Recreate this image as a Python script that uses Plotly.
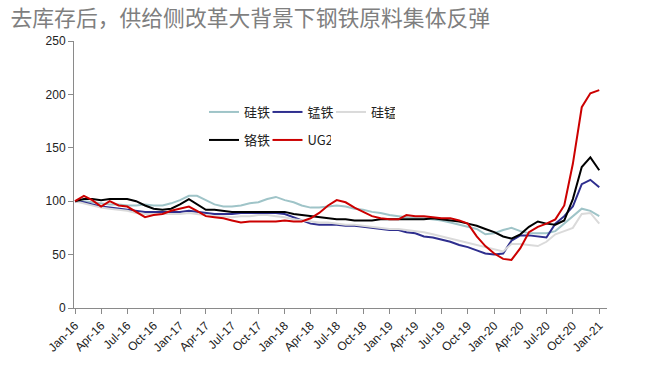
import pandas as pd
import plotly.graph_objects as go

months = pd.date_range("2016-01-01", periods=61, freq="MS")

si_fe = [100, 100, 99, 98, 97, 97, 96, 96, 97, 96, 96, 98, 101, 105, 105, 101, 97, 95, 95, 96,
         98, 99, 102, 104, 101, 99, 96, 94, 94, 95, 96, 95, 93, 92, 90, 89, 87, 86, 85, 84,
         84, 83, 82, 80, 78, 76, 74, 69, 70, 73, 75, 72, 70, 70, 70, 72, 79, 86, 93, 91, 86]
mn_fe = [100, 99, 97, 95, 94, 93, 92, 91, 90, 90, 90, 90, 90, 91, 90, 89, 88, 88, 88, 89,
         89, 89, 89, 89, 88, 85, 82, 79, 78, 78, 78, 77, 77, 76, 75, 74, 73, 73, 71, 70,
         67, 66, 64, 62, 59, 57, 54, 51, 50, 51, 63, 68, 68, 67, 66, 79, 86, 95, 116, 120, 113]
si_mn = [100, 98, 96, 94, 93, 92, 91, 89, 88, 88, 88, 88, 88, 89, 88, 87, 86, 86, 85, 86,
         86, 87, 87, 86, 85, 83, 82, 81, 80, 80, 79, 78, 78, 77, 76, 75, 74, 74, 73, 72,
         71, 69, 67, 65, 63, 61, 59, 57, 55, 53, 60, 60, 59, 58, 62, 69, 72, 75, 88, 89, 79]
cr_fe = [100, 102, 102, 101, 102, 102, 102, 100, 96, 93, 92, 93, 97, 102, 97, 92, 92, 91, 90, 90,
         90, 90, 90, 90, 90, 88, 87, 86, 85, 84, 83, 83, 82, 82, 82, 83, 83, 83, 83, 83,
         83, 84, 83, 82, 81, 79, 77, 74, 71, 67, 65, 69, 76, 81, 79, 78, 82, 102, 132, 141, 129]
ug2 = [100, 105, 101, 95, 100, 96, 95, 90, 85, 87, 88, 91, 93, 95, 91, 86, 85, 84, 82, 80,
       81, 81, 81, 81, 82, 81, 81, 84, 89, 96, 101, 99, 94, 90, 86, 84, 83, 83, 87, 86,
       86, 85, 84, 84, 82, 79, 67, 58, 51, 46, 45, 56, 71, 76, 79, 83, 96, 135, 188, 201, 204]

series = [
    ("硅铁", si_fe, "#9fc4c8", "legend"),
    ("锰铁", mn_fe, "#2e2e8e", "legend"),
    ("硅锰", si_mn, "#dadada", "legend"),
    ("铬铁", cr_fe, "#000000", "legend2"),
    ("UG2", ug2, "#cc0000", "legend2"),
]

fig = go.Figure()
for name, vals, color, lg in series:
    fig.add_trace(go.Scatter(x=months, y=vals, name=name, mode="lines",
                             line=dict(color=color, width=2), legend=lg))

axis_color = "#8a8a8a"
tick_font = dict(family="Liberation Sans, Arial", size=12, color="#222222")
leg_font = dict(family="Noto Sans CJK SC", size=13, color="#222222")

leg_x = (204 - 74) / 533

fig.update_layout(
    width=648, height=370,
    margin=dict(l=74, r=41, t=41, b=62, autoexpand=False),
    paper_bgcolor="white", plot_bgcolor="white",
    title=dict(text="去库存后，供给侧改革大背景下钢铁原料集体反弹",
               font=dict(family="Noto Sans CJK SC", size=21.8, color="#7f7f7f"),
               x=10.5 / 648, xanchor="left", xref="container",
               y=1.0, yanchor="top", yref="container", pad=dict(t=11, b=0, l=0, r=0)),
    legend=dict(orientation="h", xref="paper", yref="paper",
                x=leg_x, xanchor="left", y=(307.7 - 111.7) / 267, yanchor="middle",
                font=leg_font, entrywidth=18.5, bgcolor="rgba(0,0,0,0)"),
    legend2=dict(orientation="h", xref="paper", yref="paper",
                 x=leg_x, xanchor="left", y=(307.7 - 139.7) / 267, yanchor="middle",
                 font=leg_font, entrywidth=18.5, bgcolor="rgba(0,0,0,0)"),
    xaxis=dict(type="date", range=["2015-12-28 12:00", "2021-01-28"],
               tick0="2016-01-01", dtick="M3", tickformat="%b-%y", tickangle=-45,
               showgrid=False, zeroline=False, showline=True, linecolor=axis_color,
               linewidth=1, ticks="outside", ticklen=5, tickcolor=axis_color,
               tickfont=tick_font),
    yaxis=dict(range=[0, 250], tickvals=[0, 50, 100, 150, 200, 250],
               showgrid=False, zeroline=False, showline=True, linecolor=axis_color,
               linewidth=1, ticks="outside", ticklen=5, tickcolor=axis_color,
               tickfont=tick_font),
)

fig.write_html("out.html", config={"displayModeBar": False},
               post_script="document.body.style.margin='0';")
